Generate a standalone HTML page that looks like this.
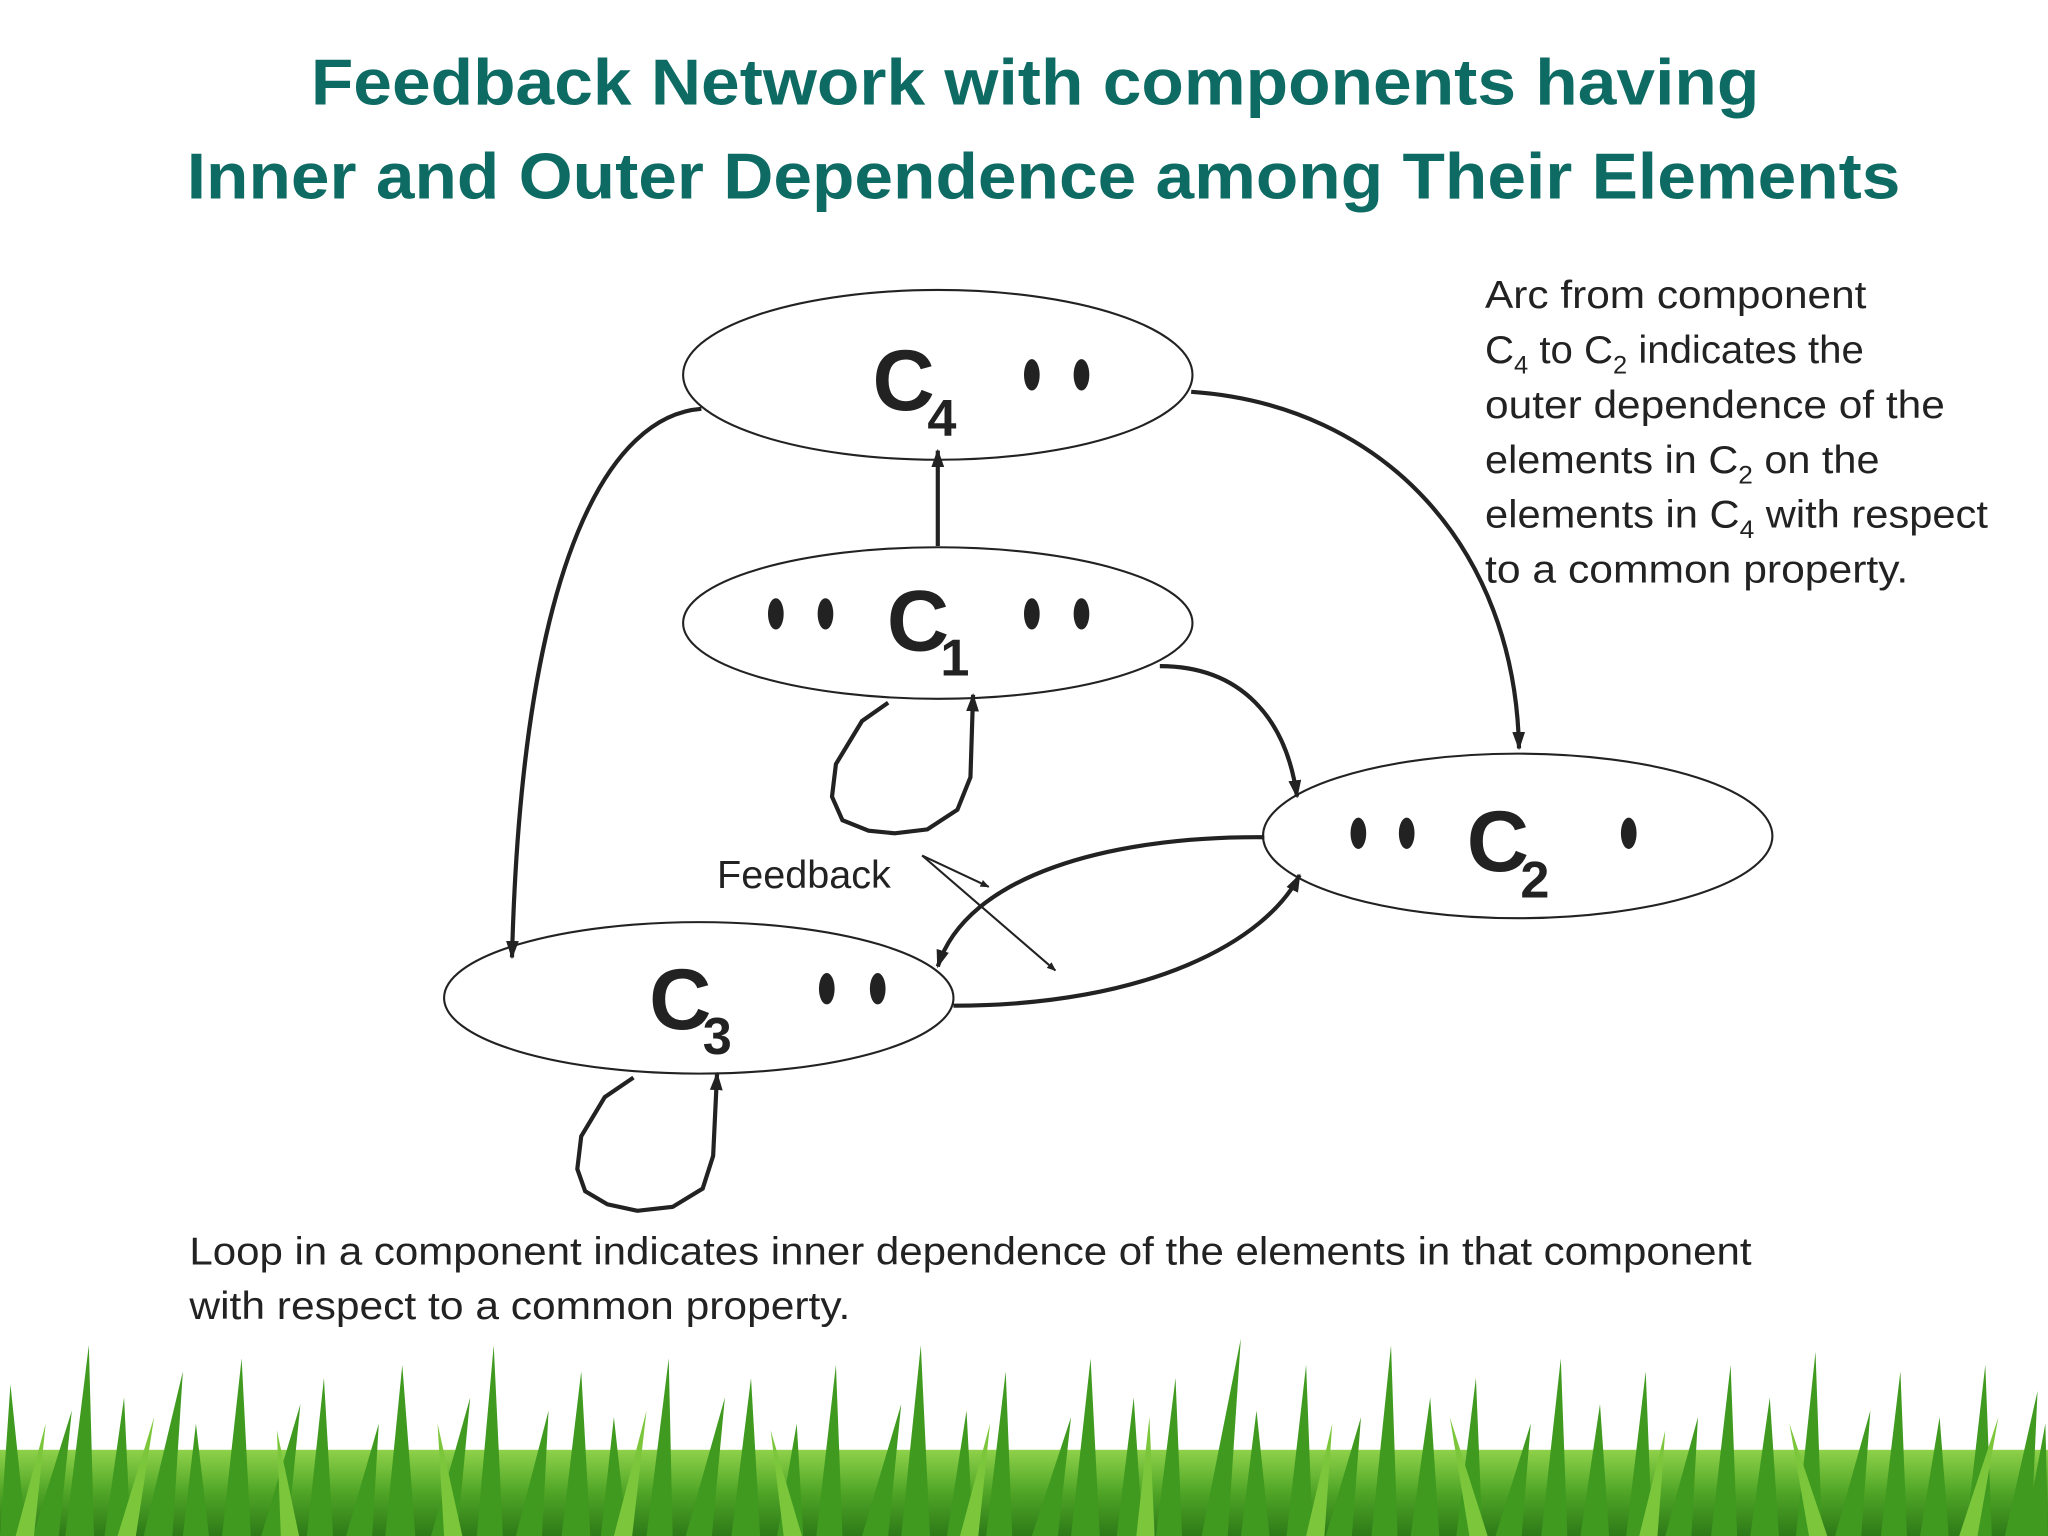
<!DOCTYPE html>
<html><head><meta charset="utf-8"><style>
html,body{margin:0;padding:0;background:#fff;}
svg{display:block;}
</style></head><body>
<svg width="2048" height="1536" viewBox="0 0 1568 1176" xmlns="http://www.w3.org/2000/svg">
<defs>
<marker id="ah" viewBox="0 0 10 10" refX="9" refY="5" markerWidth="7" markerHeight="7" orient="auto-start-reverse" markerUnits="userSpaceOnUse">
<path d="M0,1 L10,5 L0,9 Z" fill="#222"/></marker>
<marker id="ah2" viewBox="0 0 10 10" refX="9" refY="5" markerWidth="14" markerHeight="14" orient="auto" markerUnits="userSpaceOnUse">
<path d="M0,1.5 L10,5 L0,8.5 Z" fill="#222"/></marker>
<linearGradient id="gg" x1="0" y1="0" x2="0" y2="1">
<stop offset="0" stop-color="#8fd14a"/><stop offset="0.5" stop-color="#4fa526"/><stop offset="1" stop-color="#2d7a18"/></linearGradient>
</defs>
<rect width="1568" height="1176" fill="#fff"/>
<g font-family="Liberation Sans, sans-serif" font-weight="bold" fill="#0e6b63" font-size="50">
<text x="238" y="80" textLength="1109" lengthAdjust="spacingAndGlyphs">Feedback Network with components having</text>
<text x="143" y="152" textLength="1312" lengthAdjust="spacingAndGlyphs">Inner and Outer Dependence among Their Elements</text>
</g>
<g fill="#fff" stroke="#222" stroke-width="1.6">
<ellipse cx="718" cy="287" rx="195" ry="65"/>
<ellipse cx="718" cy="477" rx="195" ry="58"/>
<ellipse cx="1162" cy="640" rx="195" ry="63"/>
<ellipse cx="535" cy="764" rx="195" ry="58"/>
</g>
<g fill="#222">
<ellipse cx="790" cy="287" rx="6" ry="12"/><ellipse cx="828" cy="287" rx="6" ry="12"/>
<ellipse cx="594" cy="470" rx="6" ry="12"/><ellipse cx="632" cy="470" rx="6" ry="12"/>
<ellipse cx="790" cy="470" rx="6" ry="12"/><ellipse cx="828" cy="470" rx="6" ry="12"/>
<ellipse cx="1040" cy="638" rx="6" ry="12"/><ellipse cx="1077" cy="638" rx="6" ry="12"/>
<ellipse cx="1247" cy="638" rx="6" ry="12"/>
<ellipse cx="633" cy="757" rx="6" ry="12"/><ellipse cx="672" cy="757" rx="6" ry="12"/>
</g>
<g font-family="Liberation Sans, sans-serif" font-weight="bold" fill="#222">
<text x="668" y="314" font-size="66">C</text><text x="710" y="334" font-size="40">4</text>
<text x="679" y="498" font-size="66">C</text><text x="720" y="517" font-size="40">1</text>
<text x="1123" y="667" font-size="66">C</text><text x="1164" y="687" font-size="40">2</text>
<text x="497" y="788" font-size="66">C</text><text x="538" y="807" font-size="40">3</text>
</g>
<g fill="none" stroke="#222" stroke-width="3.2">
<path d="M718,418 L718,345" marker-end="url(#ah2)"/>
<path d="M537,313 C470,318 400,420 392,733" marker-end="url(#ah2)"/>
<path d="M912,300 C1060,310 1160,420 1163,573" marker-end="url(#ah2)"/>
<path d="M888,510 C950,510 985,550 993,610" marker-end="url(#ah2)"/>
<path d="M968,641 C850,640 740,670 718,740" marker-end="url(#ah2)"/>
<path d="M730,770 C880,770 970,720 995,670" marker-end="url(#ah2)"/>
<path d="M680,538 L660,552 L640,585 L637,610 L645,628 L665,636 L685,638 L710,635 L733,620 L743,595 L745,532" marker-end="url(#ah2)"/>
<path d="M485,825 L463,840 L445,870 L442,895 L448,912 L465,922 L488,927 L515,924 L538,910 L546,885 L549,822" marker-end="url(#ah2)"/>
</g>
<g stroke="#222" stroke-width="1.6" fill="none">
<path d="M706,655 L757,679" marker-end="url(#ah)"/>
<path d="M706,655 L808,743" marker-end="url(#ah)"/>
</g>
<g font-family="Liberation Sans, sans-serif" fill="#222" font-size="30">
<text x="549" y="680" textLength="133" lengthAdjust="spacingAndGlyphs">Feedback</text>
<text x="1137" y="236" textLength="292" lengthAdjust="spacingAndGlyphs">Arc from component</text>
<text x="1137" y="278" textLength="290" lengthAdjust="spacingAndGlyphs">C<tspan font-size="19" dy="8">4</tspan><tspan dy="-8"> to C</tspan><tspan font-size="19" dy="8">2</tspan><tspan dy="-8"> indicates the</tspan></text>
<text x="1137" y="320" textLength="352" lengthAdjust="spacingAndGlyphs">outer dependence of the</text>
<text x="1137" y="362" textLength="302" lengthAdjust="spacingAndGlyphs">elements in C<tspan font-size="19" dy="8">2</tspan><tspan dy="-8"> on the</tspan></text>
<text x="1137" y="404" textLength="385" lengthAdjust="spacingAndGlyphs">elements in C<tspan font-size="19" dy="8">4</tspan><tspan dy="-8"> with respect</tspan></text>
<text x="1137" y="446" textLength="324" lengthAdjust="spacingAndGlyphs">to a common property.</text>
<text x="145" y="968" textLength="1196" lengthAdjust="spacingAndGlyphs">Loop in a component indicates inner dependence of the elements in that component</text>
<text x="145" y="1010" textLength="506" lengthAdjust="spacingAndGlyphs">with respect to a common property.</text>
</g>
<g>
<rect x="0" y="1110" width="1568" height="66" fill="url(#gg)"/>
<g fill="#3f9a1f">
<polygon points="0,1176 20,1176 8,1060"/><polygon points="25,1176 45,1176 55,1080"/>
<polygon points="50,1176 72,1176 68,1030"/><polygon points="80,1176 100,1176 95,1070"/>
<polygon points="110,1176 132,1176 140,1050"/><polygon points="140,1176 160,1176 150,1090"/>
<polygon points="170,1176 192,1176 185,1040"/><polygon points="200,1176 220,1176 230,1075"/>
<polygon points="235,1176 255,1176 248,1055"/><polygon points="265,1176 285,1176 290,1090"/>
<polygon points="295,1176 318,1176 308,1045"/><polygon points="330,1176 350,1176 360,1070"/>
<polygon points="365,1176 385,1176 378,1030"/><polygon points="395,1176 415,1176 420,1080"/>
<polygon points="430,1176 452,1176 445,1050"/><polygon points="460,1176 480,1176 470,1085"/>
<polygon points="495,1176 515,1176 512,1040"/><polygon points="525,1176 545,1176 555,1070"/>
<polygon points="560,1176 582,1176 575,1055"/><polygon points="595,1176 615,1176 610,1090"/>
<polygon points="625,1176 645,1176 640,1045"/><polygon points="660,1176 680,1176 690,1075"/>
<polygon points="690,1176 712,1176 705,1030"/><polygon points="725,1176 745,1176 740,1080"/>
<polygon points="755,1176 775,1176 770,1050"/><polygon points="790,1176 810,1176 820,1085"/>
<polygon points="820,1176 842,1176 835,1040"/><polygon points="855,1176 875,1176 868,1070"/>
<polygon points="885,1176 905,1176 900,1055"/><polygon points="920,1176 940,1176 950,1025"/>
<polygon points="950,1176 972,1176 962,1080"/><polygon points="985,1176 1005,1176 1000,1045"/>
<polygon points="1015,1176 1035,1176 1042,1085"/><polygon points="1050,1176 1070,1176 1065,1030"/>
<polygon points="1080,1176 1102,1176 1095,1070"/><polygon points="1115,1176 1135,1176 1130,1055"/>
<polygon points="1145,1176 1165,1176 1172,1090"/><polygon points="1180,1176 1200,1176 1195,1040"/>
<polygon points="1210,1176 1232,1176 1225,1075"/><polygon points="1245,1176 1265,1176 1260,1050"/>
<polygon points="1275,1176 1295,1176 1300,1085"/><polygon points="1310,1176 1330,1176 1325,1045"/>
<polygon points="1340,1176 1362,1176 1355,1070"/><polygon points="1375,1176 1395,1176 1390,1035"/>
<polygon points="1405,1176 1425,1176 1432,1080"/><polygon points="1440,1176 1460,1176 1455,1050"/>
<polygon points="1470,1176 1492,1176 1485,1085"/><polygon points="1505,1176 1525,1176 1520,1045"/>
<polygon points="1535,1176 1555,1176 1560,1065"/><polygon points="1550,1176 1568,1176 1566,1090"/>
</g>
<g fill="#7cc63c">
<polygon points="12,1176 26,1176 35,1090"/><polygon points="90,1176 104,1176 118,1085"/>
<polygon points="215,1176 229,1176 212,1095"/><polygon points="340,1176 354,1176 335,1090"/>
<polygon points="470,1176 484,1176 495,1080"/><polygon points="600,1176 614,1176 590,1095"/>
<polygon points="735,1176 749,1176 758,1090"/><polygon points="870,1176 884,1176 880,1085"/>
<polygon points="1000,1176 1014,1176 1020,1090"/><polygon points="1125,1176 1139,1176 1110,1085"/>
<polygon points="1255,1176 1269,1176 1275,1095"/><polygon points="1385,1176 1399,1176 1370,1090"/>
<polygon points="1500,1176 1514,1176 1530,1085"/>
</g>
</g>
</svg>
</body></html>
